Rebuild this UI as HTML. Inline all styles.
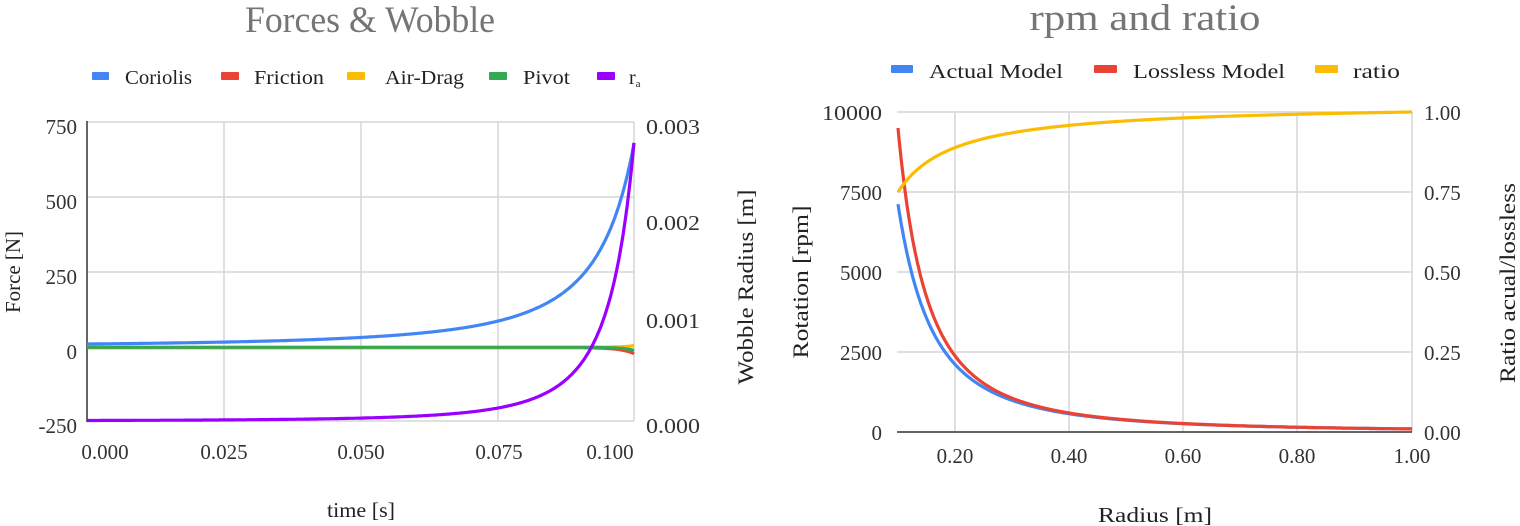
<!DOCTYPE html>
<html><head><meta charset="utf-8"><style>
html,body{margin:0;padding:0;background:#fff;}
svg{display:block;font-family:"Liberation Serif",serif;}
</style></head><body>
<svg id="s" width="1520" height="526" viewBox="0 0 1520 526" xmlns="http://www.w3.org/2000/svg">
<!-- LEFT CHART -->
<text x="370" y="32" font-size="37" fill="#757575" text-anchor="middle" textLength="250" lengthAdjust="spacingAndGlyphs">Forces &amp; Wobble</text>
<g font-size="20" fill="#222">
<rect x="92" y="72" width="17" height="8" rx="1" fill="#4285f4"/><text x="125" y="84" textLength="67" lengthAdjust="spacingAndGlyphs">Coriolis</text>
<rect x="221" y="72" width="18" height="8" rx="1" fill="#ea4335"/><text x="254" y="84" textLength="70" lengthAdjust="spacingAndGlyphs">Friction</text>
<rect x="347" y="72" width="18" height="8" rx="1" fill="#fbbc04"/><text x="385" y="84" textLength="79" lengthAdjust="spacingAndGlyphs">Air-Drag</text>
<rect x="489" y="72" width="18" height="8" rx="1" fill="#34a853"/><text x="523" y="84" textLength="47" lengthAdjust="spacingAndGlyphs">Pivot</text>
<rect x="597" y="72" width="18" height="8" rx="1" fill="#9900ff"/><text x="629" y="84">r<tspan font-size="11" dy="3">a</tspan></text>
</g>
<g stroke="#d6d6d6" stroke-width="1.5" fill="none">
<line x1="87" y1="122" x2="634" y2="122"/><line x1="87" y1="197" x2="634" y2="197"/>
<line x1="87" y1="272" x2="634" y2="272"/><line x1="87" y1="347" x2="634" y2="347"/>
<line x1="87" y1="421" x2="634" y2="421"/>
<line x1="224" y1="122" x2="224" y2="421"/><line x1="361" y1="122" x2="361" y2="421"/>
<line x1="498" y1="122" x2="498" y2="421"/><line x1="634" y1="122" x2="634" y2="421"/>
</g>
<line x1="87" y1="121" x2="87" y2="422" stroke="#333" stroke-width="1.5"/>
<g font-size="21" fill="#333" text-anchor="end">
<text x="77" y="134">750</text><text x="77" y="209">500</text><text x="77" y="284">250</text>
<text x="77" y="359">0</text><text x="77" y="433">-250</text>
</g>
<g font-size="21" fill="#333">
<text x="646" y="134" textLength="54" lengthAdjust="spacingAndGlyphs">0.003</text><text x="646" y="230" textLength="54" lengthAdjust="spacingAndGlyphs">0.002</text><text x="646" y="328" textLength="54" lengthAdjust="spacingAndGlyphs">0.001</text><text x="646" y="433" textLength="54" lengthAdjust="spacingAndGlyphs">0.000</text>
</g>
<g font-size="21" fill="#333" text-anchor="middle">
<text x="105" y="459">0.000</text><text x="224" y="459">0.025</text><text x="361" y="459">0.050</text>
<text x="499" y="459">0.075</text><text x="610" y="459">0.100</text>
</g>
<text x="361" y="517" font-size="21" fill="#222" text-anchor="middle" textLength="68" lengthAdjust="spacingAndGlyphs">time [s]</text>
<text transform="translate(20,272) rotate(-90)" font-size="21" fill="#222" text-anchor="middle" textLength="82" lengthAdjust="spacingAndGlyphs">Force [N]</text>
<text transform="translate(753,287) rotate(-90)" font-size="22" fill="#222" text-anchor="middle" textLength="195" lengthAdjust="spacingAndGlyphs">Wobble Radius [m]</text>
<g id="L" fill="none" stroke-width="3.2" stroke-linejoin="round"></g>

<!-- RIGHT CHART -->
<text x="1145" y="30" font-size="37" fill="#757575" text-anchor="middle" textLength="231" lengthAdjust="spacingAndGlyphs">rpm and ratio</text>
<g font-size="20" fill="#222">
<rect x="891" y="65" width="22" height="8" rx="1" fill="#4285f4"/><text x="929" y="78" textLength="134" lengthAdjust="spacingAndGlyphs">Actual Model</text>
<rect x="1094" y="65" width="23" height="8" rx="1" fill="#ea4335"/><text x="1133" y="78" textLength="152" lengthAdjust="spacingAndGlyphs">Lossless Model</text>
<rect x="1315" y="65" width="23" height="8" rx="1" fill="#fbbc04"/><text x="1353" y="78" textLength="47" lengthAdjust="spacingAndGlyphs">ratio</text>
</g>
<g stroke="#d6d6d6" stroke-width="1.5" fill="none">
<line x1="897" y1="112" x2="1412" y2="112"/><line x1="897" y1="192" x2="1412" y2="192"/>
<line x1="897" y1="272" x2="1412" y2="272"/><line x1="897" y1="352" x2="1412" y2="352"/>
<line x1="955" y1="112" x2="955" y2="432"/><line x1="1069" y1="112" x2="1069" y2="432"/>
<line x1="1183" y1="112" x2="1183" y2="432"/><line x1="1297" y1="112" x2="1297" y2="432"/>
<line x1="1412" y1="112" x2="1412" y2="432"/>
</g>
<line x1="897" y1="432" x2="1412" y2="432" stroke="#333" stroke-width="1.5"/>
<g font-size="21" fill="#333" text-anchor="end">
<text x="882" y="120" textLength="60" lengthAdjust="spacingAndGlyphs">10000</text><text x="882" y="200">7500</text><text x="882" y="280">5000</text>
<text x="882" y="360">2500</text><text x="882" y="440">0</text>
</g>
<g font-size="21" fill="#333">
<text x="1424" y="120">1.00</text><text x="1424" y="200">0.75</text><text x="1424" y="280">0.50</text>
<text x="1424" y="360">0.25</text><text x="1424" y="440">0.00</text>
</g>
<g font-size="21" fill="#333" text-anchor="middle">
<text x="955" y="463">0.20</text><text x="1069" y="463">0.40</text><text x="1183" y="463">0.60</text>
<text x="1297" y="463">0.80</text><text x="1412" y="463">1.00</text>
</g>
<text x="1155" y="522" font-size="21" fill="#222" text-anchor="middle" textLength="114" lengthAdjust="spacingAndGlyphs">Radius [m]</text>
<text transform="translate(808,282) rotate(-90)" font-size="22" fill="#222" text-anchor="middle" textLength="153" lengthAdjust="spacingAndGlyphs">Rotation [rpm]</text>
<text transform="translate(1515,283) rotate(-90)" font-size="22" fill="#222" text-anchor="middle" textLength="200" lengthAdjust="spacingAndGlyphs">Ratio acual/lossless</text>
<g id="R" fill="none" stroke-width="3.2" stroke-linejoin="round"></g>
</svg>
<script>
(function(){
var NS="http://www.w3.org/2000/svg";
function poly(g,pts,color){var p=document.createElementNS(NS,"polyline");p.setAttribute("points",pts.map(function(a){return a[0].toFixed(1)+","+a[1].toFixed(1)}).join(" "));p.setAttribute("stroke",color);document.getElementById(g).appendChild(p);}
function X(t){return 87+t/0.1*547;}
function YF(f){return 347-f*0.2995;}
function YW(r){return 421-r/0.003*299;}
var cor=[],fr=[],ad=[],pv=[],ra=[];
for(var i=0;i<=400;i++){var t=i/4000;
 cor.push([X(t),YF(0.1295/Math.pow(0.1138-t,2))]);
 fr.push([X(t),YF(-2-20*Math.exp((t-0.1)*400))]);
 ad.push([X(t),YF(-1+6*Math.exp((t-0.1)*500))]);
 pv.push([X(t),YF(-1-10*Math.exp((t-0.1)*450))]);
 ra.push([X(t),YW(7.66e-9/Math.pow(0.114-t,3))]);}
poly("L",cor,"#4285f4");poly("L",fr,"#ea4335");poly("L",ad,"#fbbc04");poly("L",pv,"#34a853");poly("L",ra,"#9900ff");
function XR(r){return 898+(r-0.1)/0.9*514;}
function YR(v){return 432-v/10000*320;}
function YQ(q){return 432-q*320;}
var ac=[],ll=[],rt=[];
for(var j=0;j<=450;j++){var r=0.1+j*0.002;var q=1-0.0278*(1/r-1);var L=95/(r*r);
 ll.push([XR(r),YR(L)]);ac.push([XR(r),YR(L*q)]);rt.push([XR(r),YQ(q)]);}
poly("R",ac,"#4285f4");poly("R",ll,"#ea4335");poly("R",rt,"#fbbc04");
})();
</script>
</body></html>
